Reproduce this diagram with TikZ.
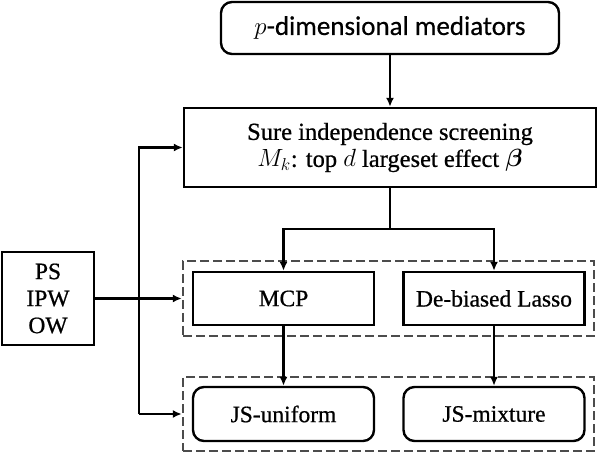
\documentclass[tikz,border=0pt]{standalone}
\usepackage{bm}
\usepackage{fontspec}
\setmainfont[FakeBold=0.7]{Liberation Serif}
\newfontfamily\calib[FakeBold=0.5]{Carlito}
\usetikzlibrary{arrows.meta}
\begin{document}
\begin{tikzpicture}[x=1pt,y=-1pt,
  box/.style={draw, line width=2.4pt, inner sep=0pt, align=center, font=\fontsize{23.5}{27}\selectfont},
  rbox/.style={box, rounded corners=11pt},
  dbox/.style={draw=black!70, line width=2.4pt, dash pattern=on 9pt off 4pt, inner sep=0pt},
  conn/.style={line width=2.2pt, -{Latex[length=9pt,width=8pt]}},
  wire/.style={line width=2.2pt}
]
\useasboundingbox (0,0) rectangle (597,454);
\node[rbox, minimum width=338pt, minimum height=52pt, font=\calib\fontsize{27}{30}\selectfont] (med) at (390,28) {$p$-dimensional mediators};
\node[box, minimum width=412pt, minimum height=79pt, font=\fontsize{24.5}{27}\selectfont] (sis) at (390,147.5) {Sure independence screening\\ $M_k$: top $d$ largeset effect $\bm{\beta}$};
\node[dbox, minimum width=411pt, minimum height=75pt] (d1) at (388.5,298.5) {};
\node[dbox, minimum width=411pt, minimum height=74pt] (d2) at (388.5,414) {};
\node[box, minimum width=181pt, minimum height=53pt] (mcp) at (283.5,298.5) {MCP};
\node[box, minimum width=181pt, minimum height=53pt] (deb) at (494,298.5) {De-biased Lasso};
\node[rbox, minimum width=181pt, minimum height=54pt] (jsu) at (283.5,414) {JS-uniform};
\node[rbox, minimum width=181pt, minimum height=54pt] (jsm) at (494,414) {JS-mixture};
\node[box, minimum width=92pt, minimum height=93pt] (ps) at (48,298.5) {PS\\IPW\\OW};
\coordinate (br) at (390,229);
\coordinate (vt) at (139,147.5);
\coordinate (vb) at (139,414);
\draw[conn] (med) -- (sis);
\draw[wire] (sis.south) -- (br);
\draw[conn] (br) -| (mcp);
\draw[conn] (br) -| (deb);
\draw[conn] (mcp) -- (jsu);
\draw[conn] (deb) -- (jsm);
\draw[conn] (ps) -- (d1);
\draw[conn] (vb) -- (vt) -- (sis);
\draw[conn] (vb) -- (d2);
\end{tikzpicture}
\end{document}
